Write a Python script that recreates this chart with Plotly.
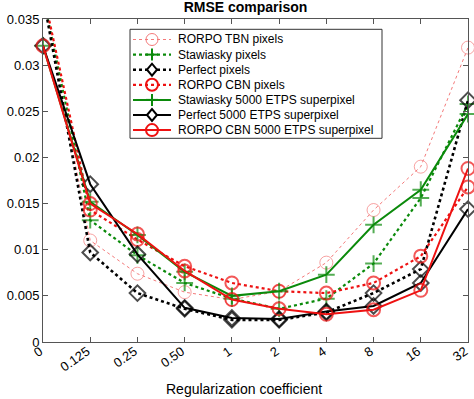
import plotly.graph_objects as go

categories = ["0", "0.125", "0.25", "0.50", "1", "2", "4", "8", "16", "32"]

rorpo_tbn_pixels = [0.0375, 0.0110, 0.0074, 0.0054, 0.0046, 0.0055, 0.0086, 0.0143, 0.0190, 0.0319]
stawiasky_pixels = [0.0375, 0.0132, 0.0094, 0.0064, 0.0047, 0.0036, 0.0047, 0.0085, 0.0156, 0.0258]
perfect_pixels = [0.0375, 0.0097, 0.0053, 0.0036, 0.0024, 0.0024, 0.0032, 0.0053, 0.0079, 0.0262]
rorpo_cbn_pixels = [0.0380, 0.0143, 0.0111, 0.0082, 0.0064, 0.0055, 0.0053, 0.0064, 0.0093, 0.0168]
stawiasky_sp = [0.0321, 0.0152, 0.0116, 0.0076, 0.0050, 0.0055, 0.0073, 0.0127, 0.0165, 0.0247]
perfect_sp = [0.0321, 0.0171, 0.0095, 0.0037, 0.0026, 0.0025, 0.0033, 0.0039, 0.0064, 0.0144]
rorpo_cbn_sp = [0.0321, 0.0150, 0.0117, 0.0077, 0.0046, 0.0036, 0.0030, 0.0035, 0.0056, 0.0188]

names = [
    "RORPO TBN pixels",
    "Stawiasky pixels",
    "Perfect pixels",
    "RORPO CBN pixels",
    "Stawiasky 5000 ETPS superpixel",
    "Perfect 5000 ETPS superpixel",
    "RORPO CBN 5000 ETPS superpixel",
]

ytick_vals = [0, 0.005, 0.01, 0.015, 0.02, 0.025, 0.03, 0.035]
ytick_text = ["0", "0.005", "0.01", "0.015", "0.02", "0.025", "0.03", "0.035"]

YMAX = 0.035

PINK = "#f47a7a"
RED = "#ee1111"
GREEN = "#0b8a0b"
BLACK = "#000000"

styles = [
    dict(color=PINK, dash="dot", width=1, symbol="circle-open", size=13, mlw=1),
    dict(color=GREEN, dash="dot", width=2.2, symbol="cross-thin-open", size=12, mlw=2),
    dict(color=BLACK, dash="dot", width=2.6, symbol="diamond-open", size=12, mlw=2),
    dict(color=RED, dash="dot", width=2.2, symbol="circle-open", size=13, mlw=2),
    dict(color=GREEN, dash="solid", width=2, symbol="cross-thin-open", size=12, mlw=2),
    dict(color=BLACK, dash="solid", width=2, symbol="diamond-open", size=12, mlw=2),
    dict(color=RED, dash="solid", width=2, symbol="circle-open", size=13, mlw=2),
]

series = [rorpo_tbn_pixels, stawiasky_pixels, perfect_pixels, rorpo_cbn_pixels,
          stawiasky_sp, perfect_sp, rorpo_cbn_sp]

W, H = 474, 399
ML, MR, MT, MB = 43, 6, 19, 57
PW, PH = W - ML - MR, H - MT - MB

fig = go.Figure()
for name, vals, st in zip(names, series, styles):
    sizes = [0 if v > YMAX else st["size"] for v in vals]
    fig.add_trace(go.Scatter(
        x=categories, y=vals, name=name, mode="lines+markers",
        line=dict(color=st["color"], dash=st["dash"], width=st["width"]),
        marker=dict(symbol=st["symbol"], size=sizes, color=st["color"],
                    line=dict(color=st["color"], width=st["mlw"])),
        cliponaxis=False, showlegend=False,
    ))


# ---- custom legend (pixel positions relative to the plot's top-left corner) ----
def px(x):
    return x / PW


def py(y):
    return 1 - y / PH


shapes = []
annotations = []
shapes.append(dict(type="rect", xref="paper", yref="paper", layer="above",
                   x0=px(87), x1=px(339), y0=py(10.3), y1=py(119.3),
                   line=dict(color="#333", width=1), fillcolor="white"))
row0, step = 20.5, 15.1
lx0, lx1, mx, tx = 90, 128, 109, 132.5
for i, (name, st) in enumerate(zip(names, styles)):
    yc = row0 + step * i
    c = st["color"]
    shapes.append(dict(type="line", xref="paper", yref="paper", layer="above",
                       x0=px(lx0), x1=px(lx1), y0=py(yc), y1=py(yc),
                       line=dict(color=c, width=st["width"], dash=st["dash"])))
    mlw = st["mlw"]
    if st["symbol"].startswith("circle"):
        r = 6
        shapes.append(dict(type="circle", xref="paper", yref="paper", layer="above",
                           x0=px(mx - r), x1=px(mx + r), y0=py(yc - r), y1=py(yc + r),
                           line=dict(color=c, width=mlw), fillcolor="rgba(0,0,0,0)"))
    elif st["symbol"].startswith("cross"):
        r = 6
        shapes.append(dict(type="line", xref="paper", yref="paper", layer="above",
                           x0=px(mx - r), x1=px(mx + r), y0=py(yc), y1=py(yc),
                           line=dict(color=c, width=mlw)))
        shapes.append(dict(type="line", xref="paper", yref="paper", layer="above",
                           x0=px(mx), x1=px(mx), y0=py(yc - r), y1=py(yc + r),
                           line=dict(color=c, width=mlw)))
    else:
        rx, ry = 5, 6
        path = (f"M {px(mx - rx)} {py(yc)} L {px(mx)} {py(yc - ry)} "
                f"L {px(mx + rx)} {py(yc)} L {px(mx)} {py(yc + ry)} Z")
        shapes.append(dict(type="path", xref="paper", yref="paper", layer="above",
                           path=path, line=dict(color=c, width=mlw),
                           fillcolor="white"))
    annotations.append(dict(text=name, xref="paper", yref="paper", x=px(tx), y=py(yc),
                            xanchor="left", yanchor="middle", showarrow=False,
                            font=dict(size=12, color="black")))

# x-axis title
annotations.append(dict(text="Regularization coefficient", xref="paper", yref="paper",
                        x=(244 - ML) / PW, y=0, yshift=-47, xanchor="center",
                        yanchor="middle", showarrow=False,
                        font=dict(size=14, color="black")))

fig.update_layout(
    width=W, height=H,
    margin=dict(l=ML, r=MR, t=MT, b=MB),
    paper_bgcolor="white", plot_bgcolor="white",
    font=dict(family="Liberation Sans, Arial, sans-serif", size=13, color="black"),
    title=dict(text="<b>RMSE comparison</b>", x=245.5 / W, xanchor="center",
               yref="container", y=0.995, yanchor="top", font=dict(size=14)),
    showlegend=False,
    shapes=shapes,
    annotations=annotations,
    xaxis=dict(type="category", range=[0, 9], tickangle=-35, ticklabelshift=-3,
               ticklabelstandoff=-4,
               showline=True, linecolor="#555", linewidth=1, mirror="ticks",
               ticks="inside", ticklen=5, tickcolor="#555", showgrid=False,
               zeroline=False, automargin=False),
    yaxis=dict(range=[0, YMAX], tickvals=ytick_vals, ticktext=ytick_text,
               showline=True, linecolor="#555", linewidth=1, mirror="ticks",
               ticks="inside", ticklen=5, tickcolor="#555", showgrid=False,
               zeroline=False, automargin=False),
)

fig.write_html(
    "out.html",
    config={"displayModeBar": False},
    post_script="document.body.style.margin='0';document.body.style.overflow='hidden';",
)
